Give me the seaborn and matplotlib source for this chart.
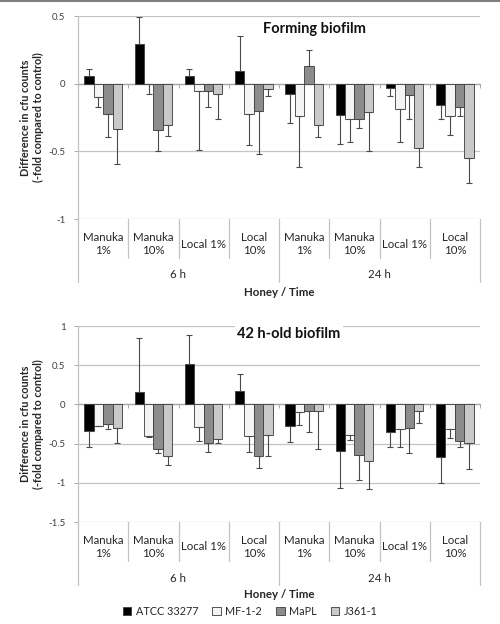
import numpy as np
import pandas as pd
import matplotlib
matplotlib.use("Agg")
import matplotlib.pyplot as plt
from matplotlib.patches import Patch
from matplotlib.lines import Line2D
import seaborn as sns

sns.set_theme(style="white")
plt.rcParams['font.family'] = ['Lato', 'DejaVu Sans']

# ---------------- data ----------------
times = ["6 h", "24 h"]
honeys = ["Manuka\n1%", "Manuka\n10%", "Local 1%", "Local\n10%"]
strains = ["ATCC 33277", "MF-1-2", "MaPL", "J361-1"]
colors = ["#000000", "#f4f4f4", "#8c8c8c", "#c9c9c9"]

# Forming biofilm (8 categories: 6 h x 4 honeys, then 24 h x 4 honeys)
top_atcc = [0.054, 0.29, 0.054, 0.093, -0.078, -0.229, -0.029, -0.154]
top_mf   = [-0.10, -0.005, -0.051, -0.222, -0.239, -0.261, -0.19, -0.239]
top_mapl = [-0.224, -0.341, -0.051, -0.20, 0.132, -0.261, -0.083, -0.171]
top_j361 = [-0.337, -0.302, -0.078, -0.039, -0.305, -0.21, -0.476, -0.546]
top_atcc_err = [0.053, 0.205, 0.053, 0.256, 0.215, 0.215, 0.063, 0.105]
top_mf_err   = [0.076, 0.068, 0.44, 0.234, 0.378, 0.173, 0.244, 0.141]
top_mapl_err = [0.17, 0.16, 0.12, 0.32, 0.115, 0.07, 0.18, 0.068]
top_j361_err = [0.26, 0.088, 0.185, 0.049, 0.088, 0.29, 0.14, 0.188]

# 42 h-old biofilm
bot_atcc = [-0.335, 0.153, 0.521, 0.165, -0.28, -0.60, -0.356, -0.665]
bot_mf   = [-0.271, -0.407, -0.288, -0.407, -0.10, -0.39, -0.309, -0.309]
bot_mapl = [-0.25, -0.572, -0.496, -0.657, -0.089, -0.644, -0.30, -0.462]
bot_j361 = [-0.297, -0.657, -0.436, -0.39, -0.08, -0.72, -0.08, -0.49]
bot_atcc_err = [0.21, 0.69, 0.365, 0.22, 0.195, 0.466, 0.19, 0.34]
bot_mf_err   = [0.01, 0.01, 0.178, 0.195, 0.16, 0.06, 0.23, 0.123]
bot_mapl_err = [0.07, 0.045, 0.115, 0.16, 0.26, 0.322, 0.318, 0.076]
bot_j361_err = [0.195, 0.115, 0.06, 0.267, 0.49, 0.364, 0.16, 0.336]

panels = [
    dict(title="Forming biofilm", vals=[top_atcc, top_mf, top_mapl, top_j361],
         errs=[top_atcc_err, top_mf_err, top_mapl_err, top_j361_err],
         ylim=(-1, 0.5), yticks=[0.5, 0, -0.5, -1], yticklabels=["0.5", "0", "-0.5", "-1"],
         px=(16, 219), title_xy=(314, 29)),
    dict(title="42 h-old biofilm", vals=[bot_atcc, bot_mf, bot_mapl, bot_j361],
         errs=[bot_atcc_err, bot_mf_err, bot_mapl_err, bot_j361_err],
         ylim=(-1.5, 1), yticks=[1, 0.5, 0, -0.5, -1, -1.5],
         yticklabels=["1", "0.5", "0", "-0.5", "-1", "-1.5"],
         px=(326, 522), title_xy=(289, 334)),
]

W, H = 500, 624
fig = plt.figure(figsize=(W / 100, H / 100), dpi=100)
fig.add_artist(Line2D([0, 1], [1 - 1 / H, 1 - 1 / H], color="#808080", lw=1.5,
                      transform=fig.transFigure))

cat_keys = [f"{t}|{h}" for t in times for h in honeys]
left_px, right_px = 78, 480
grid_c = "#c3c3c3"

for p in panels:
    top_px, bot_px = p["px"]
    hpx = bot_px - top_px
    ax = fig.add_axes([left_px / W, 1 - bot_px / H, (right_px - left_px) / W, hpx / H])

    rows = []
    for s, v in zip(strains, p["vals"]):
        for k, val in zip(cat_keys, v):
            rows.append(dict(cat=k, strain=s, val=val))
    df = pd.DataFrame(rows)

    sns.barplot(data=df, x="cat", y="val", hue="strain", order=cat_keys,
                hue_order=strains, palette=colors, errorbar=None, width=0.75,
                edgecolor="#3a3a3a", linewidth=0.6, legend=False, ax=ax, zorder=3)

    # one-sided error bars pointing away from zero
    for cont, v, e in zip(ax.containers, p["vals"], p["errs"]):
        xs = [b.get_x() + b.get_width() / 2 for b in cont]
        v = np.array(v); e = np.array(e)
        lower = np.where(v < 0, e, 0)
        upper = np.where(v >= 0, e, 0)
        ax.errorbar(xs, v, yerr=[lower, upper], fmt="none", ecolor="#4a4a4a",
                    elinewidth=0.8, capsize=2.2, capthick=0.8, zorder=4)

    ax.set_xlim(-0.5, 7.5)
    ax.set_ylim(*p["ylim"])
    ax.set_yticks(p["yticks"])
    ax.set_yticklabels(p["yticklabels"], fontsize=7, color="#404040")
    ax.tick_params(axis="y", length=3, width=0.6, color="#a0a0a0", pad=6, left=True)
    ax.set_xticks([])
    ax.set_xticks(np.arange(-0.5, 8, 1), minor=True)
    ax.tick_params(axis="x", which="minor", direction="out", length=3, width=0.6,
                   color="#9a9a9a", bottom=True, labelbottom=False)
    ax.set_xlabel("")
    ax.set_ylabel("")
    ax.yaxis.grid(True, color=grid_c, lw=0.9, zorder=0)
    ax.set_axisbelow(True)
    for sp in ["top", "right"]:
        ax.spines[sp].set_visible(False)
    ax.spines["bottom"].set_position(("data", 0))
    ax.spines["bottom"].set_color("#a6a6a6")
    ax.spines["bottom"].set_linewidth(0.9)
    ax.spines["left"].set_color(grid_c)
    ax.spines["left"].set_linewidth(0.9)

    def ay(y):
        return (bot_px - y) / hpx

    tr = ax.get_xaxis_transform()
    # category table
    for i in range(9):
        xb = i - 0.5
        if i in (0, 4, 8):
            yend = ay(bot_px + 63)
        else:
            yend = ay(bot_px + 39)
        ax.plot([xb, xb], [0, yend], transform=tr, color=grid_c, lw=0.9,
                clip_on=False, zorder=1)
    for i, k in enumerate(cat_keys):
        ax.text(i, ay(bot_px + 25), k.split("|")[1], transform=tr, ha="center",
                va="center", fontsize=8.3, color="#262626", linespacing=1.25)
    for j, t in enumerate(times):
        ax.text(1.5 + 4 * j, ay(bot_px + 56), t, transform=tr, ha="center",
                va="center", fontsize=8.3, color="#262626")
    ax.text(3.5, ay(bot_px + 73), "Honey / Time", transform=tr, ha="center",
            va="center", fontsize=8.3, fontweight="bold", color="#262626")

    # panel title
    tx, tyy = p["title_xy"]
    fig.text(tx / W, 1 - tyy / H, p["title"], ha="center", va="center",
             fontsize=10.5, fontweight="bold", color="#111111",
             bbox=dict(facecolor="white", edgecolor="none", pad=2))

    # y label
    fig.text(32 / W, 1 - ((top_px + bot_px) / 2) / H,
             "Difference in cfu counts\n(-fold compared to control)",
             rotation=90, ha="center", va="center", fontsize=7.8,
             fontweight="bold", color="#262626", linespacing=1.2)

handles = [Patch(facecolor=c, edgecolor="#3a3a3a", linewidth=0.6) for c in colors]
fig.legend(handles, strains, loc="lower center", bbox_to_anchor=(0.5, 2 / H),
           ncol=4, frameon=False, fontsize=7.8, handlelength=0.8, handleheight=0.8,
           handletextpad=0.4, columnspacing=1.3, borderpad=0, labelcolor="#262626")

fig.savefig("out.png", dpi=100)
